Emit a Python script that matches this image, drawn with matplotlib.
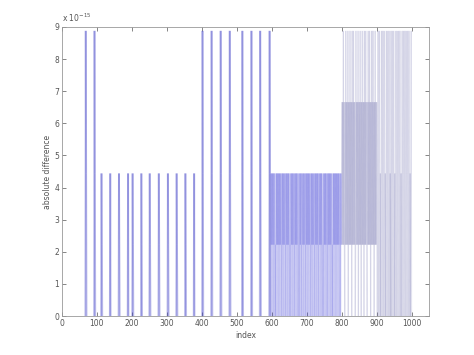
import numpy as np
import matplotlib
matplotlib.use("Agg")
import matplotlib.pyplot as plt
from matplotlib.collections import LineCollection

# ---- data ----
n_points = 1000
# isolated spikes (index, value)
spike_index = [68, 69, 93, 94, 113, 114, 138, 163, 164, 189, 202, 203, 227, 228,
               251, 252, 277, 278, 303, 304, 328, 329, 353, 354, 378,
               402, 403, 428, 429, 454, 455, 480, 481,
               516, 517, 542, 543, 567, 568, 594, 595]
spike_value = [8.88e-15, 4.44e-15, 8.88e-15, 4.44e-15, 4.44e-15, 2.22e-15, 4.44e-15,
               4.44e-15, 2.22e-15, 4.44e-15, 4.44e-15, 2.22e-15, 4.44e-15, 2.22e-15,
               4.44e-15, 2.22e-15, 4.44e-15, 2.22e-15, 4.44e-15, 2.22e-15, 4.44e-15,
               2.22e-15, 4.44e-15, 2.22e-15, 4.44e-15,
               8.88e-15, 4.44e-15, 8.88e-15, 4.44e-15, 8.88e-15, 4.44e-15, 8.88e-15, 4.44e-15,
               8.88e-15, 4.44e-15, 8.88e-15, 4.44e-15, 8.88e-15, 4.44e-15, 8.88e-15, 4.44e-15]

# dense part, one code per index: 0 -> 0, 1 -> 2.22e-15, 2 -> 4.44e-15, 3 -> 6.66e-15, 4 -> 8.88e-15
level_values = [0.0, 2.22e-15, 4.44e-15, 6.66e-15, 8.88e-15]
dense_start = 598
dense_a = ("21202120212010212021" "20212021201202120212" "01202120212021012021"
           "20212012021202120120" "12021202102120212012" "02120212021201202120"
           "21201202120212021021" "20212021012021202120" "12021202120212010212"
           "02120212021202120120" "212")
dense_b = ("31314131031413131403" "13141313041314131301" "41313140313141303141"
           "31304131413103141314" "13031413141303141313")
dense_c = ("20242024202024202420" "24202024202420242020" "42024202420202420242"
           "02420242020242024202" "42024202420242020240")

x_ticks = [0, 100, 200, 300, 400, 500, 600, 700, 800, 900, 1000]
y_ticks = [0, 1, 2, 3, 4, 5, 6, 7, 8, 9]

# ---- build series ----
idx = np.arange(1, n_points + 1)
vals = np.zeros(n_points)
for i, v in zip(spike_index, spike_value):
    vals[i - 1] = v
codes = dense_a + dense_b + dense_c
for k, c in enumerate(codes):
    vals[dense_start - 1 + k] = level_values[int(c)]

a_end = dense_start + len(dense_a) - 1   # last index of region A

fig = plt.figure(figsize=(4.74, 3.55), dpi=100)
ax = fig.add_axes([62 / 474, 39 / 355, 367 / 474, 289 / 355])

pts = np.column_stack([idx, vals])
segs = np.stack([pts[:-1], pts[1:]], axis=1)
keep = ~((segs[:, 0, 1] == 0) & (segs[:, 1, 1] == 0))
segs = segs[keep]
seg_x = segs[:, 1, 0]
colors, widths = [], []
for xx in seg_x:
    if xx < dense_start:
        colors.append((0.25, 0.25, 0.78, 0.34))
        widths.append(1.4)
    elif xx <= a_end:
        colors.append((0.28, 0.28, 0.85, 0.19))
        widths.append(0.9)
    else:
        colors.append((0.42, 0.42, 0.68, 0.16))
        widths.append(0.9)
lc = LineCollection(segs, colors=colors, linewidths=widths)
ax.add_collection(lc)

ax.set_xlim(0, 1050)
ax.set_ylim(0, 9e-15)
ax.set_xticks(x_ticks)
ax.set_yticks([t * 1e-15 for t in y_ticks])
ax.set_yticklabels([str(t) for t in y_ticks])
ax.tick_params(direction="in", top=True, right=True, labelsize=5.5,
               colors="#555555", length=3, width=0.5, pad=2)
for sp in ax.spines.values():
    sp.set_color("#999999")
    sp.set_linewidth(0.6)
ax.set_xlabel("index", fontsize=5.5, color="#555555", labelpad=2)
ax.set_ylabel("absolute difference", fontsize=5.5, color="#555555", labelpad=2)
ax.text(0.0, 1.01, r"x 10$^{-15}$", transform=ax.transAxes, fontsize=5.5,
        color="#555555", ha="left", va="bottom")

fig.savefig("out.png", dpi=100)
